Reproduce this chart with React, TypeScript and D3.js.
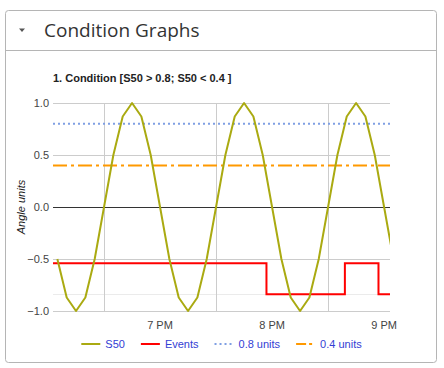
import { useEffect, useRef } from 'react';
import * as d3 from 'd3';

// S50 samples, every 5 minutes
const s50Times = [
  '18:05', '18:10', '18:15', '18:20', '18:25', '18:30', '18:35', '18:40', '18:45', '18:50', '18:55',
  '19:00', '19:05', '19:10', '19:15', '19:20', '19:25', '19:30', '19:35', '19:40', '19:45', '19:50', '19:55',
  '20:00', '20:05', '20:10', '20:15', '20:20', '20:25', '20:30', '20:35', '20:40', '20:45', '20:50', '20:55',
  '21:00', '21:05',
];
const s50Values = [
  -0.5, -0.87, -1, -0.87, -0.5, 0, 0.5, 0.87, 1, 0.87, 0.5,
  0, -0.5, -0.87, -1, -0.87, -0.5, 0, 0.5, 0.87, 1, 0.87, 0.5,
  0, -0.5, -0.87, -1, -0.87, -0.5, 0, 0.5, 0.87, 1, 0.87, 0.5,
  0, -0.5,
];

// Events step series
const eventTimes = ['18:00', '19:57', '20:39', '20:57', '21:05'];
const eventValues = [-0.54, -0.84, -0.54, -0.84, -0.84];

const thresholdValues = [0.8, 0.4];
const seriesNames = ['S50', 'Events', '0.8 units', '0.4 units'];
const seriesColors = ['#aaaa11', '#ff0000', '#7f9fe3', '#ff9900'];

const yTicks = [-1, -0.5, 0, 0.5, 1];
const yMinorGrid = [-0.84];
const xTickTimes = ['19:00', '20:00', '21:00'];
const xGridTimes = ['18:30', '19:30', '20:30'];
const xDomain = ['18:02:40', '21:03:10'];

const parseHM = d3.timeParse('%H:%M');
const parseHMS = d3.timeParse('%H:%M:%S');

export default function App() {
  const svgRef = useRef<SVGSVGElement>(null);

  useEffect(() => {
    document.body.style.margin = '0';
    if (!svgRef.current) return;

    const svg = d3.select(svgRef.current);
    svg.selectAll('*').remove();

    const width = 444;
    const height = 368;
    const left = 53;
    const right = 390;
    const top = 103;
    const bottom = 311;

    svg.attr('width', width).attr('height', height);

    // Panel
    svg.append('rect')
      .attr('x', 5.5).attr('y', 10.5)
      .attr('width', 431).attr('height', 352)
      .attr('rx', 3)
      .attr('fill', '#fff')
      .attr('stroke', '#b5b5b5');
    svg.append('line')
      .attr('x1', 6).attr('x2', 436)
      .attr('y1', 50.5).attr('y2', 50.5)
      .attr('stroke', '#b5b5b5');
    svg.append('path')
      .attr('d', 'M19,28.5 L25,28.5 L22,32 Z')
      .attr('fill', '#555');
    svg.append('text')
      .attr('x', 44).attr('y', 37)
      .attr('font-family', 'Open Sans, sans-serif')
      .attr('font-size', 19)
      .attr('fill', '#333')
      .text('Condition Graphs');

    // Scales
    const x = d3.scaleTime()
      .domain([parseHMS(xDomain[0])!, parseHMS(xDomain[1])!])
      .range([left, right]);
    const y = d3.scaleLinear().domain([-1, 1]).range([bottom, top]);

    const font = 'Arial, Liberation Sans, sans-serif';

    // Title
    svg.append('text')
      .attr('x', 53).attr('y', 82)
      .attr('font-family', font)
      .attr('font-size', 11)
      .attr('font-weight', 'bold')
      .attr('fill', '#222')
      .text('1. Condition [S50 > 0.8; S50 < 0.4 ]');

    // Grid
    const g = svg.append('g');
    yMinorGrid.forEach((v) => {
      g.append('line')
        .attr('x1', left).attr('x2', right)
        .attr('y1', Math.round(y(v)) + 0.5).attr('y2', Math.round(y(v)) + 0.5)
        .attr('stroke', '#ebebeb');
    });
    yTicks.forEach((v) => {
      g.append('line')
        .attr('x1', left).attr('x2', right)
        .attr('y1', Math.round(y(v)) + 0.5).attr('y2', Math.round(y(v)) + 0.5)
        .attr('stroke', v === 0 ? '#333' : '#cccccc');
      g.append('text')
        .attr('x', 49).attr('y', y(v))
        .attr('dy', '0.35em')
        .attr('text-anchor', 'end')
        .attr('font-family', font)
        .attr('font-size', 11)
        .attr('fill', '#444')
        .text(d3.format('.1f')(v));
    });
    xGridTimes.forEach((t) => {
      const px = Math.round(x(parseHM(t)!)) + 0.5;
      g.append('line')
        .attr('x1', px).attr('x2', px)
        .attr('y1', top).attr('y2', bottom)
        .attr('stroke', '#cccccc');
    });
    // redraw baseline on top of vertical grid
    g.append('line')
      .attr('x1', left).attr('x2', right)
      .attr('y1', Math.round(y(0)) + 0.5).attr('y2', Math.round(y(0)) + 0.5)
      .attr('stroke', '#333');

    xTickTimes.forEach((t) => {
      g.append('text')
        .attr('x', x(parseHM(t)!)).attr('y', 329)
        .attr('text-anchor', 'middle')
        .attr('font-family', font)
        .attr('font-size', 11)
        .attr('fill', '#444')
        .text(d3.timeFormat('%-I %p')(parseHM(t)!));
    });

    // Axis title
    svg.append('text')
      .attr('transform', `translate(25,${y(0)}) rotate(-90)`)
      .attr('text-anchor', 'middle')
      .attr('font-family', font)
      .attr('font-size', 11)
      .attr('font-style', 'italic')
      .attr('fill', '#222')
      .text('Angle units');

    // Clip
    svg.append('clipPath').attr('id', 'plot-clip')
      .append('rect')
      .attr('x', left).attr('y', top - 3)
      .attr('width', right - left).attr('height', bottom - top + 6);

    const plot = svg.append('g').attr('clip-path', 'url(#plot-clip)');

    // Threshold lines
    const dashes = ['2,3', '14,4,3,4'];
    thresholdValues.forEach((v, i) => {
      plot.append('line')
        .attr('x1', left).attr('x2', right)
        .attr('y1', y(v)).attr('y2', y(v))
        .attr('stroke', seriesColors[i + 2])
        .attr('stroke-width', 2)
        .attr('stroke-dasharray', dashes[i]);
    });

    // Events
    const events = eventTimes.map((t, i) => ({ t: parseHM(t)!, v: eventValues[i] }));
    const stepLine = d3.line<{ t: Date; v: number }>()
      .x((d) => x(d.t))
      .y((d) => y(d.v))
      .curve(d3.curveStepAfter);
    plot.append('path')
      .datum(events)
      .attr('d', stepLine)
      .attr('fill', 'none')
      .attr('stroke', seriesColors[1])
      .attr('stroke-width', 2);

    // S50
    const s50 = s50Times.map((t, i) => ({ t: parseHM(t)!, v: s50Values[i] }));
    const s50Line = d3.line<{ t: Date; v: number }>()
      .x((d) => x(d.t))
      .y((d) => y(d.v));
    plot.append('path')
      .datum(s50)
      .attr('d', s50Line)
      .attr('fill', 'none')
      .attr('stroke', seriesColors[0])
      .attr('stroke-width', 2)
      .attr('stroke-linejoin', 'round');

    // Legend
    const legendDash = [null, null, '2,3', '10,3,3,3'];
    const legend = svg.append('g');
    let cx = 0;
    seriesNames.forEach((name, i) => {
      const item = legend.append('g').attr('transform', `translate(${cx},0)`);
      item.append('line')
        .attr('x1', 0).attr('x2', 19)
        .attr('y1', 0).attr('y2', 0)
        .attr('stroke', seriesColors[i])
        .attr('stroke-width', 2)
        .attr('stroke-dasharray', legendDash[i]);
      const txt = item.append('text')
        .attr('x', 24).attr('y', 0)
        .attr('dy', '0.35em')
        .attr('font-family', font)
        .attr('font-size', 11)
        .attr('fill', '#3340d4')
        .text(name);
      const w = (txt.node() as SVGTextElement).getComputedTextLength();
      cx += 24 + w + 16;
    });
    const total = cx - 16;
    legend.attr('transform', `translate(${(left + right) / 2 - total / 2},344)`);
  }, []);

  return <svg ref={svgRef} style={{ display: 'block' }} />;
}
